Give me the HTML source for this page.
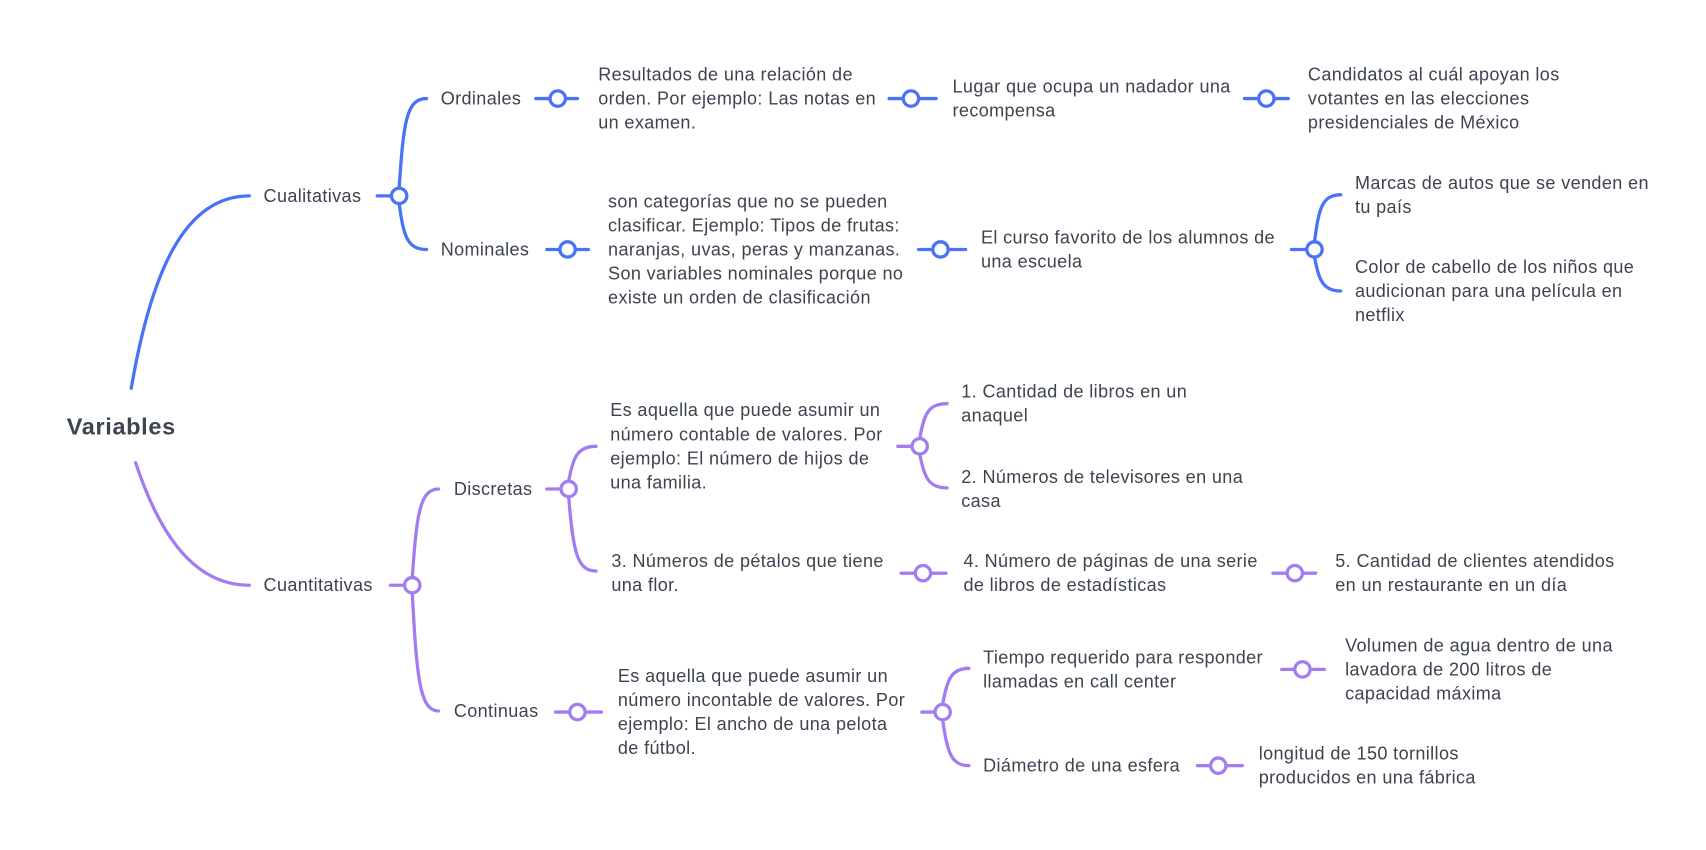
<!DOCTYPE html>
<html><head><meta charset="utf-8"><style>
html,body{margin:0;padding:0;background:#fff;}
svg{display:block}
text{font-family:"Liberation Sans",sans-serif;font-size:16.5px;letter-spacing:0.35px;fill:#3d4450;dominant-baseline:central}
.b{stroke:#4a72f5;stroke-width:3;fill:none;stroke-linecap:round}
.p{stroke:#a27cf0;stroke-width:3;fill:none;stroke-linecap:round}
.cb{stroke:#4a72f5;stroke-width:3;fill:#fff}
.cp{stroke:#a27cf0;stroke-width:3;fill:#fff}
</style></head><body>
<svg width="1706" height="850" viewBox="0 0 1560 777" xmlns="http://www.w3.org/2000/svg">
<g transform="translate(-2,0)">
<text x="63" y="390" style="font-size:21.5px;font-weight:bold;letter-spacing:0.6px">Variables</text>
<path class="b" d="M122,355 C140,250 170,179 230,179"/>
<text x="243" y="179">Cualitativas</text>
<path class="b" d="M347,179 H360"/>
<path class="b" d="M367,172 C371,110 374,90 392,90"/>
<path class="b" d="M367,186 C371,215 374,228 392,228"/>
<circle class="cb" cx="367" cy="179" r="7"/>
<text x="405" y="90">Ordinales</text>
<path class="b" d="M492,90 H530"/><circle class="cb" cx="512" cy="90" r="7"/>
<text x="549" y="68">Resultados de una relación de</text>
<text x="549" y="90">orden. Por ejemplo: Las notas en</text>
<text x="549" y="112">un examen.</text>
<path class="b" d="M815,90 H858"/><circle class="cb" cx="835" cy="90" r="7"/>
<text x="873" y="79">Lugar que ocupa un nadador una</text>
<text x="873" y="101">recompensa</text>
<path class="b" d="M1140,90 H1180"/><circle class="cb" cx="1160" cy="90" r="7"/>
<text x="1198" y="68">Candidatos al cuál apoyan los</text>
<text x="1198" y="90">votantes en las elecciones</text>
<text x="1198" y="112">presidenciales de México</text>
<text x="405" y="228">Nominales</text>
<path class="b" d="M502,228 H540"/><circle class="cb" cx="521" cy="228" r="7"/>
<text x="558" y="184">son categorías que no se pueden</text>
<text x="558" y="206">clasificar. Ejemplo: Tipos de frutas:</text>
<text x="558" y="228">naranjas, uvas, peras y manzanas.</text>
<text x="558" y="250">Son variables nominales porque no</text>
<text x="558" y="272">existe un orden de clasificación</text>
<path class="b" d="M842,228 H885"/><circle class="cb" cx="862" cy="228" r="7"/>
<text x="899" y="217">El curso favorito de los alumnos de</text>
<text x="899" y="239">una escuela</text>
<path class="b" d="M1183,228 H1197"/>
<path class="b" d="M1204,221 C1208,190 1211,178 1228,178"/>
<path class="b" d="M1204,235 C1208,255 1211,266 1228,266"/>
<circle class="cb" cx="1204" cy="228" r="7"/>
<text x="1241" y="167">Marcas de autos que se venden en</text>
<text x="1241" y="189">tu país</text>
<text x="1241" y="244">Color de cabello de los niños que</text>
<text x="1241" y="266">audicionan para una película en</text>
<text x="1241" y="288">netflix</text>
<path class="p" d="M126,423 C145,480 175,535 230,535"/>
<text x="243" y="535">Cuantitativas</text>
<path class="p" d="M359,535 H372"/>
<path class="p" d="M379,528 C383,470 386,447 403,447"/>
<path class="p" d="M379,542 C383,620 386,650 403,650"/>
<circle class="cp" cx="379" cy="535" r="7"/>
<text x="417" y="447">Discretas</text>
<path class="p" d="M502,447 H515"/>
<path class="p" d="M522,440 C526,418 530,408 547,408"/>
<path class="p" d="M522,454 C526,505 530,522 547,522"/>
<circle class="cp" cx="522" cy="447" r="7"/>
<text x="560" y="375">Es aquella que puede asumir un</text>
<text x="560" y="397">número contable de valores. Por</text>
<text x="560" y="419">ejemplo: El número de hijos de</text>
<text x="560" y="441">una familia.</text>
<path class="p" d="M823,408 H836"/>
<path class="p" d="M843,401 C847,378 851,369 868,369"/>
<path class="p" d="M843,415 C847,436 851,446 868,446"/>
<circle class="cp" cx="843" cy="408" r="7"/>
<text x="881" y="358">1. Cantidad de libros en un</text>
<text x="881" y="380">anaquel</text>
<text x="881" y="436">2. Números de televisores en una</text>
<text x="881" y="458">casa</text>
<text x="561" y="513">3. Números de pétalos que tiene</text>
<text x="561" y="535">una flor.</text>
<path class="p" d="M826,524 H867"/><circle class="cp" cx="846" cy="524" r="7"/>
<text x="883" y="513">4. Número de páginas de una serie</text>
<text x="883" y="535">de libros de estadísticas</text>
<path class="p" d="M1166,524 H1205"/><circle class="cp" cx="1186" cy="524" r="7"/>
<text x="1223" y="513">5. Cantidad de clientes atendidos</text>
<text x="1223" y="535">en un restaurante en un día</text>
<text x="417" y="650">Continuas</text>
<path class="p" d="M510,651 H552"/><circle class="cp" cx="530" cy="651" r="7"/>
<text x="567" y="618">Es aquella que puede asumir un</text>
<text x="567" y="640">número incontable de valores. Por</text>
<text x="567" y="662">ejemplo: El ancho de una pelota</text>
<text x="567" y="684">de fútbol.</text>
<path class="p" d="M845,651 H857"/>
<path class="p" d="M864,644 C868,621 872,611 888,611"/>
<path class="p" d="M864,658 C868,688 872,700 888,700"/>
<circle class="cp" cx="864" cy="651" r="7"/>
<text x="901" y="601">Tiempo requerido para responder</text>
<text x="901" y="623">llamadas en call center</text>
<text x="901" y="700">Diámetro de una esfera</text>
<path class="p" d="M1174,612 H1213"/><circle class="cp" cx="1193" cy="612" r="7"/>
<text x="1232" y="590">Volumen de agua dentro de una</text>
<text x="1232" y="612">lavadora de 200 litros de</text>
<text x="1232" y="634">capacidad máxima</text>
<path class="p" d="M1097,700 H1138"/><circle class="cp" cx="1116" cy="700" r="7"/>
<text x="1153" y="689">longitud de 150 tornillos</text>
<text x="1153" y="711">producidos en una fábrica</text>
</g>
</svg>
</body></html>
